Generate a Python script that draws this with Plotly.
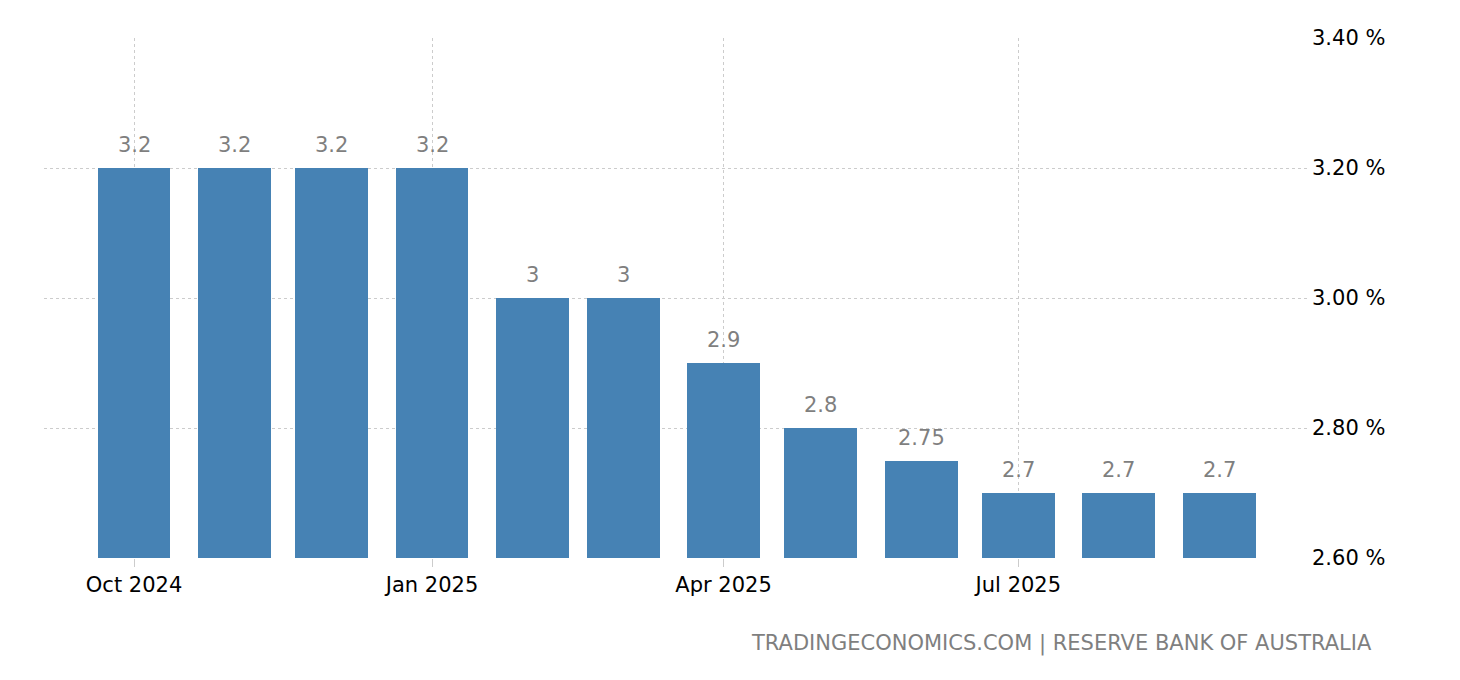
import plotly.graph_objects as go

months = ["2024-10-01", "2024-11-01", "2024-12-01", "2025-01-01", "2025-02-01", "2025-03-01",
          "2025-04-01", "2025-05-01", "2025-06-01", "2025-07-01", "2025-08-01", "2025-09-01"]
values = [3.2, 3.2, 3.2, 3.2, 3.0, 3.0, 2.9, 2.8, 2.75, 2.7, 2.7, 2.7]
labels = ["3.2", "3.2", "3.2", "3.2", "3", "3", "2.9", "2.8", "2.75", "2.7", "2.7", "2.7"]
tick_dates = ["2024-10-01", "2025-01-01", "2025-04-01", "2025-07-01"]
tick_text = ["Oct 2024", "Jan 2025", "Apr 2025", "Jul 2025"]
y_ticks = [2.6, 2.8, 3.0, 3.2, 3.4]
y_tick_text = ["2.60 %", "2.80 %", "3.00 %", "3.20 %", "3.40 %"]

FONT = "DejaVu Sans"
bar_width_ms = 22.5 * 86400000

fig = go.Figure()
fig.add_trace(go.Bar(
    x=months, y=values, base=0,
    width=[bar_width_ms] * len(months),
    marker=dict(color="#4682B4", line=dict(width=0)),
    hoverinfo="x+y",
))

for m, v, t in zip(months, values, labels):
    fig.add_annotation(x=m, y=v, text=t, showarrow=False, yanchor="bottom",
                       yshift=9, font=dict(family=FONT, size=21, color="#7f7f7f"))

fig.add_annotation(xref="paper", yref="paper", x=1.052, y=-0.165, xanchor="right", yanchor="middle",
                   text="TRADINGECONOMICS.COM | RESERVE BANK OF AUSTRALIA", showarrow=False,
                   font=dict(family=FONT, size=21, color="#7f7f7f"))

fig.update_layout(
    width=1452, height=672,
    margin=dict(l=36, r=152, t=30, b=122),
    plot_bgcolor="white", paper_bgcolor="white",
    showlegend=False, bargap=0,
    xaxis=dict(
        type="date",
        range=["2024-09-03 05:00", "2025-09-28 10:00"],
        tickvals=tick_dates, ticktext=tick_text,
        showgrid=True, gridcolor="#cccccc", griddash="dot", gridwidth=1,
        ticks="outside", ticklen=8, tickcolor="#cccccc",
        tickfont=dict(family=FONT, size=21, color="black"),
        showline=False, zeroline=False,
    ),
    yaxis=dict(
        side="right",
        range=[2.6, 3.4],
        tickvals=y_ticks, ticktext=y_tick_text,
        showgrid=True, gridcolor="#cccccc", griddash="dot", gridwidth=1,
        tickfont=dict(family=FONT, size=21, color="black"),
        showline=False, zeroline=False, ticks="",
        ticklabelstandoff=3,
    ),
)

fig.write_html("out.html")
